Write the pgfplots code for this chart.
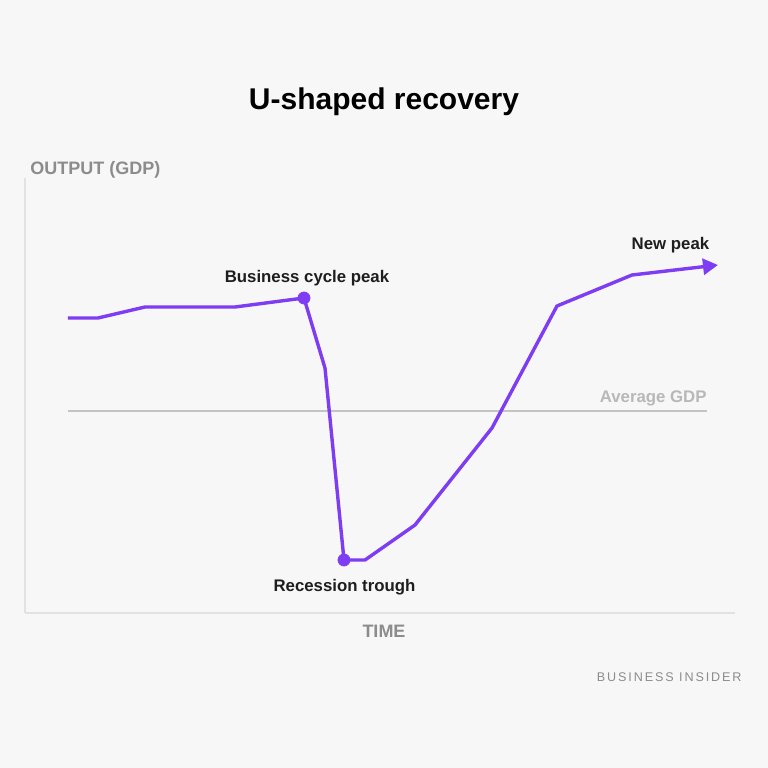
\documentclass[border=0pt]{standalone}
\usepackage{pgfplots}
\pgfplotsset{compat=1.18}
\usetikzlibrary{arrows.meta}
\usepackage{fontspec}
\setmainfont{Liberation Sans}
\newfontfamily\spaced[LetterSpace=15]{Liberation Sans}
\definecolor{bg}{HTML}{F7F7F7}
\definecolor{purp}{HTML}{7E3DF2}
\definecolor{axgray}{HTML}{E2E2E2}
\definecolor{lblgray}{HTML}{8C8C8C}
\definecolor{avggray}{HTML}{B8B8B8}
\definecolor{avgline}{HTML}{C4C4C4}
\definecolor{txt}{HTML}{1E1E1E}
\begin{document}
\begin{tikzpicture}[x=1pt,y=1pt]
\fill[bg] (0,0) rectangle (384,384);
\begin{axis}[
  at={(12.5pt,77.5pt)}, anchor=south west,
  scale only axis, width=355pt, height=217.5pt,
  xmin=0, xmax=710, ymin=0, ymax=435,
  axis lines*=left, ticks=none, clip=false,
  axis line style={axgray, line width=1pt},
]
\addplot[avgline, line width=0.6pt] coordinates {(43,202) (682,202)};
\addplot[purp, line width=1.7pt, line join=round,
  -{Triangle[length=7.5pt,width=8pt]}] coordinates {
  (43,295) (73,295) (120,306) (210,306) (279,315) (300,245)
  (319,53) (340,53) (390,88) (467,185) (532,307) (607,338) (693,348)};
\addplot[only marks, mark=*, mark size=3pt, purp] coordinates {(279,315) (319,53)};
\node[anchor=base, font=\bfseries\fontsize{8.4}{10}\selectfont, text=txt] at (axis cs:282,331) {Business cycle peak};
\node[anchor=base, font=\bfseries\fontsize{8.4}{10}\selectfont, text=txt] at (axis cs:319.5,22) {Recession trough};
\node[anchor=base, font=\bfseries\fontsize{8.4}{10}\selectfont, text=txt] at (axis cs:645.5,364) {New peak};
\node[anchor=base east, inner sep=0pt, font=\bfseries\fontsize{8.4}{10}\selectfont, text=avggray] at (axis cs:682,211) {Average GDP};
\end{axis}
\node[anchor=base, font=\bfseries\fontsize{15}{18}\selectfont, text=black] at (192,329) {U-shaped recovery};
\node[anchor=base west, inner sep=0pt, font=\bfseries\fontsize{9}{11}\selectfont, text=lblgray] at (15,296.5) {OUTPUT (GDP)};
\node[anchor=base, font=\bfseries\fontsize{9}{11}\selectfont, text=lblgray] at (192,65) {TIME};
\node[anchor=base east, inner sep=0pt, font=\spaced\fontsize{6.3}{8}\selectfont, text=lblgray] at (371,43) {BUSINESS INSIDER};
\end{tikzpicture}
\end{document}
